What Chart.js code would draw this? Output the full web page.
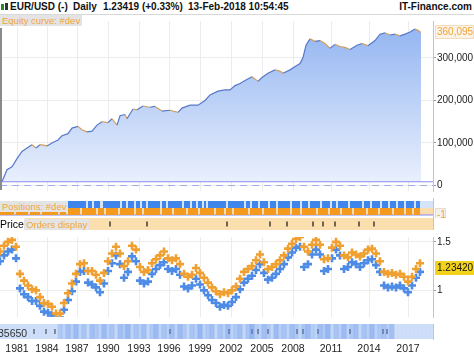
<!DOCTYPE html>
<html><head><meta charset="utf-8">
<script src="https://cdn.jsdelivr.net/npm/chart.js@4.4.1/dist/chart.umd.min.js"></script>
<style>
body{margin:0;background:#fff;}
#wrap{position:relative;width:474px;height:355px;overflow:hidden;background:#fff;font-family:Arial,'Liberation Sans',sans-serif;}
canvas{position:absolute;left:0;}
.t{position:absolute;white-space:nowrap;font-size:10px;line-height:12px;}
.hd{position:absolute;top:1px;font-weight:bold;font-size:10px;line-height:12px;color:#111;white-space:nowrap;}
.tag{position:absolute;white-space:nowrap;font-size:9.5px;line-height:11px;color:#f2a43a;background:#e4e4e4;padding:0 2px;}
</style></head><body>
<div id="wrap">
  <div style="position:absolute;left:1px;top:4px;width:3px;height:6px;background:#2a8a2a"></div>
  <div style="position:absolute;left:5px;top:3px;width:3px;height:7px;background:#333"></div>
  <div class="hd" style="left:10px">EUR/USD (-)</div>
  <div class="hd" style="left:73px">Daily</div>
  <div class="hd" style="left:103px">1.23419 (+0.33%)</div>
  <div class="hd" style="left:188px">13-Feb-2018 10:54:45</div>
  <div class="hd" style="right:2px">IT-Finance.com</div>
  <div style="position:absolute;left:0;top:14px;width:474px;height:1px;background:#d8d8d8"></div>

  <canvas id="cEq" width="474" height="184" style="top:14px"></canvas>
  <canvas id="cPos" width="474" height="20" style="top:198px"></canvas>
  <canvas id="cOrd" width="474" height="12" style="top:218px"></canvas>
  <canvas id="cPx" width="474" height="94" style="top:230px"></canvas>
  <canvas id="cVol" width="474" height="31" style="top:324px"></canvas>

  <div style="position:absolute;left:0;top:28px;width:2px;height:162px;background:#8a8a8a"></div>
  <div class="tag" style="left:0;top:15px">Equity curve: #dev</div>
  <div class="tag" style="left:0;top:201px">Positions: #dev</div>
  <div class="t" style="left:0;top:218px;height:12px;background:#fff;color:#000;font-size:10.5px;padding-right:1px">Price</div>
  <div class="tag" style="left:24px;top:219px">Orders display</div>
  <div class="t" style="left:-2px;top:327px;color:#333;font-size:10.5px">35650</div>
</div>
<script>
// ---------- axis (bar-index based, like the platform) ----------
const yearLabels = ['1981','1984','1987','1990','1993','1996','1999','2002','2005','2008','2011','2014','2017'];
const yearPos    = [17,47,77,108,139,169,200,231,262,293,331,369,408];

// ---------- equity curve ----------
const equityX = [2,7,12,17,22,27,32,36,40,47,52,58,62,68,72,78,82,87,92,97,102,108,112,117,120,125,127,133,137,143,150,155,162,170,178,182,190,198,205,210,218,225,230,235,240,245,252,258,262,268,275,280,283,290,296,300,303,306,310,315,320,325,330,335,340,345,350,357,362,368,375,380,385,390,395,400,405,410,415,418,421];
const equityY = [8700,37000,44000,63000,80000,88000,96000,88000,96000,93000,100000,107000,117000,122000,135000,139000,131000,126000,128000,142000,150000,148000,157000,142000,164000,167000,157000,180000,178000,187000,184000,186000,175000,177000,172000,182000,189000,189000,200000,213000,222000,225000,225000,235000,240000,247000,256000,245000,254000,264000,272000,269000,264000,272000,281000,287000,301000,330000,345000,339000,341000,334000,323000,332000,327000,325000,320000,330000,334000,329000,341000,356000,359000,354000,356000,352000,356000,361000,368000,365000,360095];
const equityBase = 8700;
const equityTicks = [0,100000,200000,300000];

// ---------- positions ----------
const longSeg  = [[68,86],[88,92],[94,100],[103,120],[122,126],[128,134],[136,140],[142,146],[148,160],[162,166],[168,182],[184,190],[192,196],[198,202],[204,206],[208,226],[228,244],[246,250],[252,258],[260,268],[270,276],[278,290],[292,300],[302,308],[310,320],[322,330],[332,336],[338,348],[350,362],[364,370],[372,380],[382,388],[390,396],[398,404],[406,414],[416,420]];
const shortSeg = [[0,14],[16,28],[30,40],[42,58],[60,66],[68,80],[82,96],[98,104],[106,118],[120,134],[136,142],[144,160],[162,172],[174,186],[188,198],[200,214],[216,224],[226,232],[234,248],[250,262],[264,276],[278,290],[292,300],[302,316],[318,328],[330,340],[342,352],[354,366],[368,378],[380,392],[394,404],[406,412],[414,420]];

// ---------- orders ----------
const orderMarks = [110,147,227,270,287,313,323,335,359,374];

// ---------- price markers ----------
const priceX = [0,4,8,12,16,20,24,28,32,36,40,44,48,52,56,60,64,68,72,76,80,84,88,92,96,100,104,108,112,116,120,124,128,132,136,140,144,148,152,156,160,164,168,172,176,180,184,188,192,196,200,204,208,212,216,220,224,228,232,236,240,244,248,252,256,260,264,268,272,276,280,284,288,292,296,300,304,308,312,316,320,324,328,332,336,340,344,348,352,356,360,364,368,372,376,380,384,388,392,396,400,404,408,412,416,420];
const sellMarks = [1.40,1.46,1.50,1.52,1.45,1.17,1.10,1.05,1.01,1.00,0.93,0.87,0.86,0.83,0.76,0.76,0.87,0.97,1.07,1.17,1.27,1.28,1.20,1.20,1.16,1.10,1.18,1.30,1.38,1.45,1.38,1.25,1.30,1.46,1.42,1.24,1.19,1.21,1.28,1.32,1.36,1.40,1.33,1.31,1.33,1.27,1.17,1.14,1.16,1.23,1.18,1.13,1.08,1.03,0.99,0.96,0.98,0.97,1.00,1.04,1.12,1.19,1.22,1.25,1.31,1.37,1.29,1.22,1.24,1.27,1.31,1.36,1.43,1.48,1.53,1.55,1.45,1.40,1.47,1.52,1.47,1.32,1.33,1.44,1.50,1.46,1.36,1.34,1.39,1.37,1.35,1.38,1.42,1.43,1.38,1.30,1.19,1.17,1.18,1.16,1.17,1.14,1.09,1.14,1.22,1.28];
const buyMarks  = [1.30,1.36,1.40,1.42,1.33,1.02,0.96,0.93,0.89,0.89,0.84,0.78,0.77,0.74,0.71,0.72,0.80,0.90,0.99,1.09,1.19,1.20,1.08,1.06,1.03,0.98,1.07,1.20,1.28,1.36,1.27,1.13,1.19,1.35,1.30,1.10,1.07,1.09,1.17,1.22,1.26,1.29,1.22,1.20,1.22,1.16,1.04,1.02,1.05,1.12,1.06,1.00,0.95,0.90,0.87,0.83,0.85,0.84,0.88,0.93,1.01,1.08,1.12,1.15,1.21,1.27,1.18,1.11,1.13,1.17,1.22,1.27,1.34,1.39,1.44,1.45,1.24,1.27,1.37,1.42,1.37,1.20,1.22,1.33,1.42,1.36,1.22,1.24,1.29,1.27,1.24,1.28,1.31,1.32,1.26,1.19,1.05,1.03,1.04,1.03,1.05,1.02,0.98,1.05,1.13,1.19];
const lastPrice = 1.2342;
const priceTicks = [1,1.5];

// ---------- bottom strip ----------
const volX = [0,4,8,12,16,20,24,28,32,36,40,44,48,52,56,60,64,68,72,76,80,84,88,92,96,100,104,108,112,116,120,124,128,132,136,140,144,148,152,156,160,164,168,172,176,180,184,188,192,196,200,204,208,212,216,220,224,228,232,236,240,244,248,252,256,260,264,268,272,276,280,284,288,292,296,300,304,308,312,316,320,324,328,332,336,340,344,348,352,356,360,364,368,372,376,380,384,388,392,396,400,404,408,412,416,420,424,428,432];
const volShade = [0,0,0,0,0,0,0,0,0,0,0,0,0,0,0,0.5,0.3,0.7,0.4,0.8,0.3,0.6,0.2,0.7,0.5,0.3,0.8,0.4,0.6,0.2,0.7,0.5,0.9,0.3,0.6,0.4,0.7,0.2,0.5,0.8,0.3,0.6,0.4,0.7,0.3,0.8,0.5,0.2,0.6,0.4,0.9,0.3,0.5,0.7,0.2,0.6,0.4,0.8,0.3,0.5,0.7,0.2,0.6,0.9,0.4,0.3,0.7,0.5,0.2,0.8,0.4,0.6,0.3,0.7,0.5,0.2,0.6,0.8,0.4,0.3,0.7,0.5,0.9,0.2,0.6,0.4,0.8,0.3,0.5,0.7,0.2,0.6,0.4,0.8,0.3,0.5,0.6,0.4,0.7];
const bottomMarks = [34,46,55,170,229,252,258,268,297,303,318,350,383,387];

// ================= helpers =================
const FONT = "Arial, 'Liberation Sans', sans-serif";
Chart.defaults.font.family = FONT;
Chart.defaults.animation = false;
Chart.defaults.responsive = false;
Chart.defaults.devicePixelRatio = 1;
Chart.defaults.plugins.legend.display = false;
Chart.defaults.plugins.tooltip.enabled = false;
Chart.defaults.layout.autoPadding = false;

const GRID = '#ececec';
function xAxis(showGrid){
  return {type:'linear', min:0, max:433, offset:false,
    afterBuildTicks: s => { s.ticks = yearPos.map(v => ({value:v})); },
    afterFit: s => { s.height = 0; },
    ticks:{display:false}, border:{display:false},
    grid:{display:showGrid, color:GRID, drawTicks:false, offset:false}};
}
function yAxis(min, max, ticks, fmt){
  return {type:'linear', position:'right', min, max,
    afterFit: s => { s.width = 41; },
    afterBuildTicks: s => { s.ticks = ticks.map(v => ({value:v})); },
    border:{display:true, color:'#c4c4c4'},
    grid:{color:GRID, drawTicks:true, tickLength:3, tickColor:'#999'},
    ticks:{display:ticks.length>0, padding:1, color:'#222', font:{size:10, family:FONT}, callback: fmt || (v=>v)}};
}
const pts = (xs, ys) => xs.map((x,i) => ({x, y: ys[i]}));
function segData(segs, v){
  const out = [];
  segs.forEach(([a,b],i) => {
    out.push({x:a,y:v},{x:b,y:v});
    if (i < segs.length-1) out.push({x:(b+segs[i+1][0])/2, y:null});
  });
  return out;
}
const valBox = {
  id:'valBox',
  afterDraw(chart){
    const o = chart.options.plugins.valBox; if(!o || !Array.isArray(o.items)) return;
    const c = chart.ctx;
    o.items.forEach(it => {
      const y = Math.round(chart.scales.y.getPixelForValue(it.value));
      c.save();
      c.font = '10px ' + FONT;
      const w = it.w || (c.measureText(it.text).width + 4);
      c.fillStyle = it.bg; c.fillRect(435, y-7, w, 14);
      if (it.border){ c.strokeStyle = it.border; c.lineWidth = 1; c.strokeRect(435.5, y-6.5, w-1, 13); }
      c.fillStyle = it.fg; c.textBaseline = 'middle'; c.textAlign='left';
      c.fillText(it.text, 437, y+0.5);
      c.restore();
    });
  }
};
const bgBands = {
  id:'bgBands',
  beforeDatasetsDraw(chart){
    const o = chart.options.plugins.bgBands; if(!o || !Array.isArray(o.bands)) return;
    const c = chart.ctx, a = chart.chartArea, y = chart.scales.y;
    c.save();
    o.bands.forEach(b => {
      const y1 = y.getPixelForValue(b.from), y2 = y.getPixelForValue(b.to);
      c.fillStyle = b.color;
      c.fillRect(a.left, Math.min(y1,y2), a.right-a.left, Math.abs(y2-y1));
    });
    c.restore();
  }
};
Chart.register(valBox, bgBands);

// ================= equity =================
new Chart(document.getElementById('cEq'), {
  type:'line',
  data:{datasets:[
    {data: pts(equityX, equityY), borderWidth:1.2, pointRadius:0, tension:0,
     borderColor:'#5878c8',
     segment:{borderColor: ctx => ctx.p1.parsed.y < ctx.p0.parsed.y ? '#cfa060' : '#5878c8'},
     fill:{value: equityBase},
     backgroundColor: ctx => {
       const {chart} = ctx; const a = chart.chartArea; if(!a) return 'rgba(150,185,240,0.6)';
       const g = chart.ctx.createLinearGradient(0, a.top + 10, 0, a.bottom);
       g.addColorStop(0, '#96b7f2'); g.addColorStop(1, '#eef3fd'); return g;
     }, order:1},
    {data:[{x:0,y:equityBase},{x:433,y:equityBase}], borderColor:'#8a8cf0', borderWidth:1, pointRadius:0, fill:false, order:0},
    {data:[{x:0,y:0},{x:433,y:0}], borderColor:'#a6abe6', borderWidth:1.2, borderDash:[7,5], pointRadius:0, fill:false, order:0}
  ]},
  options:{
    layout:{padding:0},
    scales:{
      x: xAxis(true),
      y: yAxis(-13000, 387000, equityTicks, v => v.toLocaleString('en-US'))
    },
    plugins:{valBox:{items:[{value: equityY[equityY.length-1], text:'360,095', bg:'#fbf3e6', fg:'#f2a43a', border:'#f1dcc0', w:39}]}}
  }
});

// ================= positions =================
new Chart(document.getElementById('cPos'), {
  type:'line',
  data:{datasets:[
    {data: segData(longSeg, 1), borderWidth:0, pointRadius:0, spanGaps:false, fill:'origin', backgroundColor:'#3f86ec', borderColor:'rgba(0,0,0,0)'},
    {data: segData(shortSeg, -1), borderWidth:0, pointRadius:0, spanGaps:false, fill:'origin', backgroundColor:'#f39a1e', borderColor:'rgba(0,0,0,0)'},
    {data:[{x:0,y:-1},{x:433,y:-1}], borderColor:'#8588ee', borderWidth:1, pointRadius:0, fill:false}
  ]},
  options:{
    layout:{padding:0},
    scales:{ x: xAxis(false), y: Object.assign(yAxis(-1.43, 1.43, []), {grid:{display:false}}) },
    plugins:{
      bgBands:{bands:[{from:0,to:1,color:'#d6e4fa'},{from:-1,to:0,color:'#fbdcae'}]},
      valBox:{items:[{value:-1, text:'-1', bg:'#f4f0ea', fg:'#f2a43a', border:'#e6dccd', w:11}]}
    }
  }
});

// ================= orders strip =================
new Chart(document.getElementById('cOrd'), {
  type:'scatter',
  data:{datasets:[
    {data: orderMarks.map(x => ({x, y:0.5})), pointStyle:'line', rotation:90, radius:2.5, borderWidth:1.2, borderColor:'#111', backgroundColor:'#111'}
  ]},
  options:{
    layout:{padding:0},
    scales:{ x: Object.assign(xAxis(true), {grid:{display:true,color:'#fff2dc',drawTicks:false}}),
             y: Object.assign(yAxis(0, 1, []), {grid:{display:false}}) },
    plugins:{ bgBands:{bands:[{from:0,to:1,color:'#fcdfae'}]} }
  }
});

// ================= price =================
new Chart(document.getElementById('cPx'), {
  type:'scatter',
  data:{datasets:[
    {data: pts(priceX, sellMarks), pointStyle:'cross', radius:4, borderWidth:2.6, borderColor:'#f0a030', order:1},
    {data: pts(priceX, buyMarks), pointStyle:'cross', radius:4, borderWidth:2.6, borderColor:'#4d8be6', order:2}
  ]},
  options:{
    layout:{padding:0},
    scales:{ x: xAxis(true), y: yAxis(0.725, 1.55, priceTicks, v => String(v)) },
    plugins:{ valBox:{items:[{value:lastPrice, text:'1.23420', bg:'#f3d21c', fg:'#111', w:39}]} }
  }
});

// ================= bottom strip + date axis =================
new Chart(document.getElementById('cVol'), {
  data:{datasets:[
    {type:'bar', data: pts(volX, volX.map(() => 1)), barPercentage:1, categoryPercentage:1, borderWidth:0,
     backgroundColor: ctx => 'rgba(80,135,230,' + (0.08 + 0.45*(volShade[ctx.dataIndex]||0)) + ')'},
    {type:'scatter', data: bottomMarks.map(x => ({x, y:0.5})), pointStyle:'line', rotation:90, radius:2.5, borderWidth:1, borderColor:'#333'}
  ]},
  options:{
    layout:{padding:0},
    scales:{
      x:{type:'linear', min:0, max:433, offset:false,
         afterBuildTicks: s => { s.ticks = yearPos.map(v => ({value:v})); },
         afterFit: s => { s.height = 16; },
         border:{display:false}, grid:{display:false, drawTicks:false, offset:false},
         ticks:{padding:4, color:'#222', font:{size:10.5, family:FONT}, maxRotation:0, autoSkip:false,
                callback:(v, i) => yearLabels[i]}},
      y: Object.assign(yAxis(0, 1, []), {grid:{display:false}})
    },
    plugins:{ bgBands:{bands:[{from:0,to:1,color:'#dbe7fb'}]} }
  }
});
</script>
</body></html>
